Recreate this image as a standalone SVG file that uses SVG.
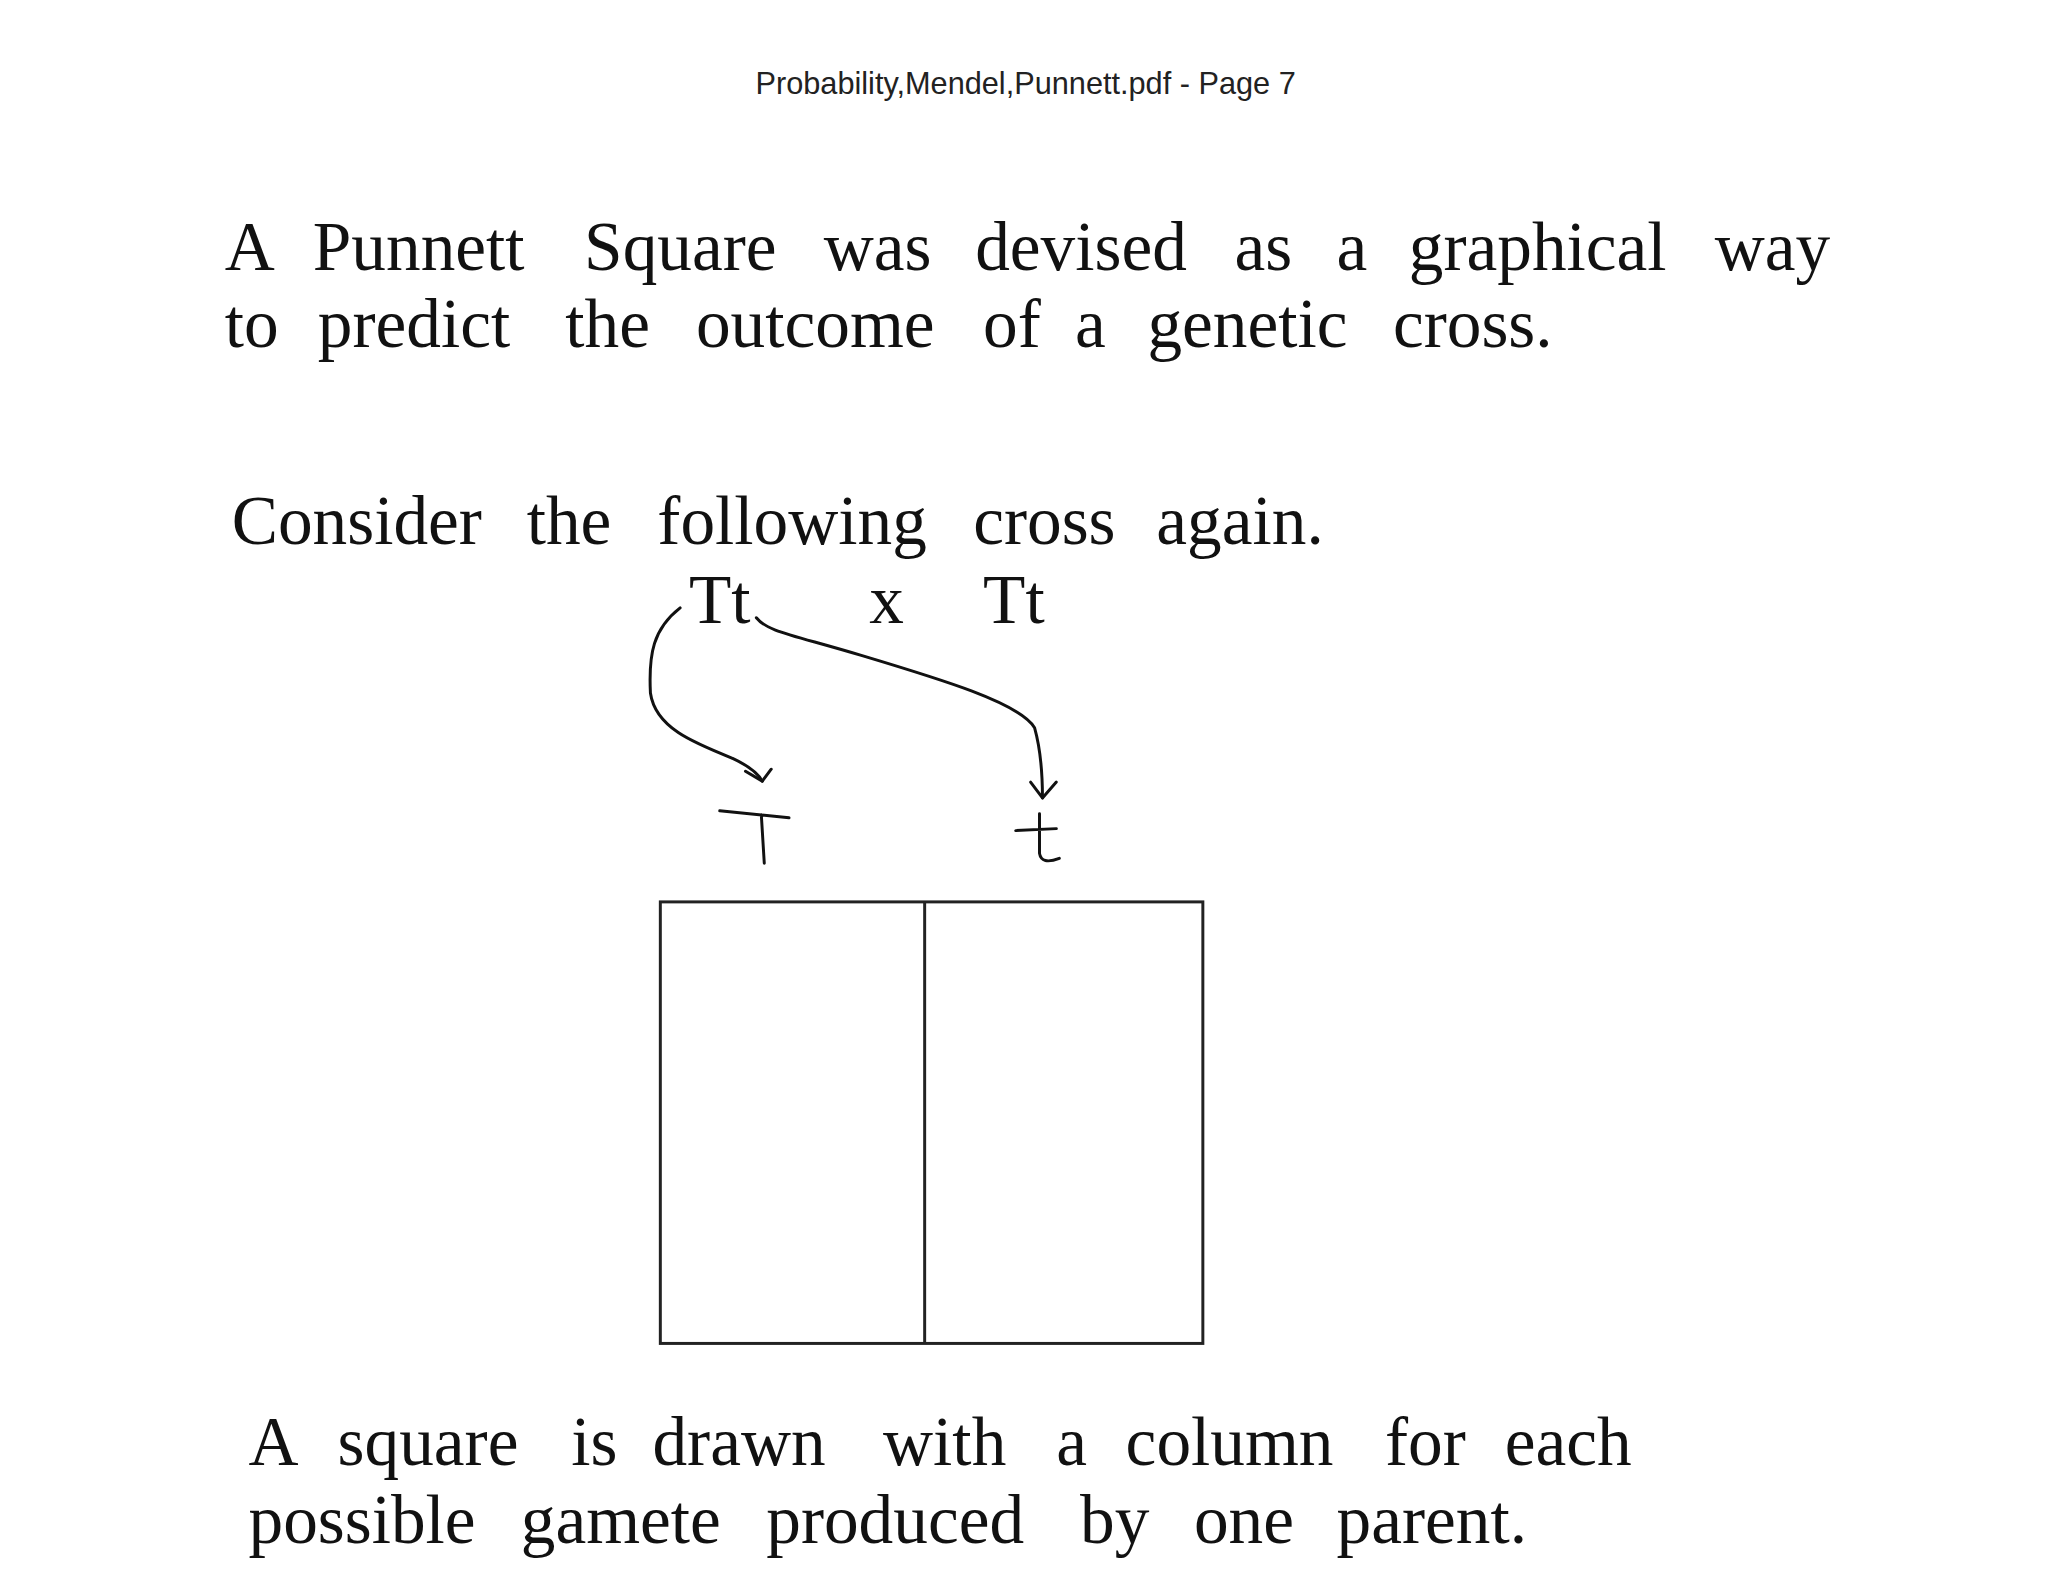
<svg xmlns="http://www.w3.org/2000/svg" width="2048" height="1582" viewBox="0 0 2048 1582">
<style>
.b{font-family:"Liberation Serif",serif;font-size:70px;fill:#111}
.h{font-family:"Liberation Sans",sans-serif;font-size:31px;fill:#222}
.ink{fill:none;stroke:#111;stroke-width:3;stroke-linecap:round;stroke-linejoin:round}
</style>
<rect width="2048" height="1582" fill="#fff"/>
<g transform="scale(0.99)">
<g id="header"><text class="h" x="1036" y="95" text-anchor="middle">Probability,Mendel,Punnett.pdf - Page 7</text></g>
<g id="intro">
<text class="b" y="273"><tspan x="227">A</tspan><tspan x="316">Punnett</tspan><tspan x="590">Square</tspan><tspan x="832">was</tspan><tspan x="985">devised</tspan><tspan x="1247">as</tspan><tspan x="1350">a</tspan><tspan x="1423">graphical</tspan><tspan x="1732">way</tspan></text>
<text class="b" y="351"><tspan x="227">to</tspan><tspan x="321">predict</tspan><tspan x="571">the</tspan><tspan x="703">outcome</tspan><tspan x="993">of</tspan><tspan x="1086">a</tspan><tspan x="1159">genetic</tspan><tspan x="1407">cross.</tspan></text>
</g>
<g id="consider"><text class="b" y="550"><tspan x="234">Consider</tspan><tspan x="532">the</tspan><tspan x="664">following</tspan><tspan x="983">cross</tspan><tspan x="1168">again.</tspan></text></g>
<g id="cross">
<text class="b" x="696" y="629">Tt</text>
<text class="b" x="878" y="629">x</text>
<text class="b" x="993" y="629">Tt</text>
</g>
<g id="gameteT"><path class="ink" d="M727 819 L797 826 M769 823 L772 872"/></g>
<g id="gamete_t"><path class="ink" d="M1026 839 L1067 837 M1050 822 L1050 862 Q1052 874 1070 867"/></g>
<g id="connectors">
<path class="ink" d="M687 614 C660 635 655 660 657 700 C662 735 700 750 740 766 C755 773 765 780 770 789"/>
<path class="ink" d="M753 779 L770 789 L779 777"/>
<path class="ink" d="M764 624 C775 638 800 641 870 662 C950 686 1030 710 1045 735 C1052 760 1053 785 1053 806"/>
<path class="ink" d="M1041 790 L1053 806 L1067 790"/>
</g>
<g id="punnett">
<rect x="667" y="911" width="548" height="446" fill="none" stroke="#222" stroke-width="3"/>
<line x1="934" y1="911" x2="934" y2="1357" stroke="#222" stroke-width="3"/>
</g>
<g id="caption">
<text class="b" y="1480"><tspan x="251">A</tspan><tspan x="341">square</tspan><tspan x="577">is</tspan><tspan x="659">drawn</tspan><tspan x="892">with</tspan><tspan x="1067">a</tspan><tspan x="1137">column</tspan><tspan x="1399">for</tspan><tspan x="1520">each</tspan></text>
<text class="b" y="1559"><tspan x="251">possible</tspan><tspan x="526">gamete</tspan><tspan x="774">produced</tspan><tspan x="1091">by</tspan><tspan x="1206">one</tspan><tspan x="1350">parent.</tspan></text>
</g>
</g>
</svg>
